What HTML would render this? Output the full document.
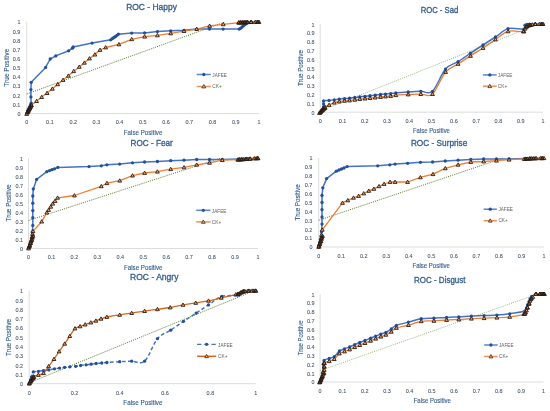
<!DOCTYPE html>
<html><head><meta charset="utf-8"><style>
html,body{margin:0;padding:0;background:#fff;width:550px;height:411px;overflow:hidden}
svg{display:block;filter:blur(0.25px)}
text{font-family:"Liberation Sans",sans-serif}
.t{font-size:6.2px;fill:#44546A;stroke:#44546A;stroke-width:0.08}
.ti{font-size:8.9px;fill:#355D8E;stroke:#355D8E;stroke-width:0.32}
.at{font-size:6.5px;fill:#355D8E;stroke:#355D8E;stroke-width:0.12}
.lg{font-size:6.0px;fill:#606060}
</style></head><body>
<svg width="550" height="411" viewBox="0 0 550 411">
<rect width="550" height="411" fill="#fff"/>
<g><line x1="26.7" y1="22" x2="26.7" y2="113.6" stroke="#D9D9D9" stroke-width="0.9"/><line x1="26.7" y1="113.6" x2="259" y2="113.6" stroke="#D9D9D9" stroke-width="0.9"/><text x="20.4" y="115.9" text-anchor="end" class="t" textLength="3.0" lengthAdjust="spacingAndGlyphs">0</text><text x="20.4" y="106.7" text-anchor="end" class="t" textLength="7.6" lengthAdjust="spacingAndGlyphs">0.1</text><text x="20.4" y="97.6" text-anchor="end" class="t" textLength="7.6" lengthAdjust="spacingAndGlyphs">0.2</text><text x="20.4" y="88.4" text-anchor="end" class="t" textLength="7.6" lengthAdjust="spacingAndGlyphs">0.3</text><text x="20.4" y="79.3" text-anchor="end" class="t" textLength="7.6" lengthAdjust="spacingAndGlyphs">0.4</text><text x="20.4" y="70.1" text-anchor="end" class="t" textLength="7.6" lengthAdjust="spacingAndGlyphs">0.5</text><text x="20.4" y="60.9" text-anchor="end" class="t" textLength="7.6" lengthAdjust="spacingAndGlyphs">0.6</text><text x="20.4" y="51.8" text-anchor="end" class="t" textLength="7.6" lengthAdjust="spacingAndGlyphs">0.7</text><text x="20.4" y="42.6" text-anchor="end" class="t" textLength="7.6" lengthAdjust="spacingAndGlyphs">0.8</text><text x="20.4" y="33.5" text-anchor="end" class="t" textLength="7.6" lengthAdjust="spacingAndGlyphs">0.9</text><text x="20.4" y="24.3" text-anchor="end" class="t" textLength="3.0" lengthAdjust="spacingAndGlyphs">1</text><text x="26.7" y="124" text-anchor="middle" class="t" textLength="3.0" lengthAdjust="spacingAndGlyphs">0</text><text x="49.9" y="124" text-anchor="middle" class="t" textLength="7.6" lengthAdjust="spacingAndGlyphs">0.1</text><text x="73.2" y="124" text-anchor="middle" class="t" textLength="7.6" lengthAdjust="spacingAndGlyphs">0.2</text><text x="96.4" y="124" text-anchor="middle" class="t" textLength="7.6" lengthAdjust="spacingAndGlyphs">0.3</text><text x="119.6" y="124" text-anchor="middle" class="t" textLength="7.6" lengthAdjust="spacingAndGlyphs">0.4</text><text x="142.8" y="124" text-anchor="middle" class="t" textLength="7.6" lengthAdjust="spacingAndGlyphs">0.5</text><text x="166.1" y="124" text-anchor="middle" class="t" textLength="7.6" lengthAdjust="spacingAndGlyphs">0.6</text><text x="189.3" y="124" text-anchor="middle" class="t" textLength="7.6" lengthAdjust="spacingAndGlyphs">0.7</text><text x="212.5" y="124" text-anchor="middle" class="t" textLength="7.6" lengthAdjust="spacingAndGlyphs">0.8</text><text x="235.8" y="124" text-anchor="middle" class="t" textLength="7.6" lengthAdjust="spacingAndGlyphs">0.9</text><text x="259" y="124" text-anchor="middle" class="t" textLength="3.0" lengthAdjust="spacingAndGlyphs">1</text><text x="126.2" y="10.1" class="ti" textLength="50.7" lengthAdjust="spacingAndGlyphs">ROC - Happy</text><text x="123.8" y="134.6" class="at" textLength="38.6" lengthAdjust="spacingAndGlyphs">False Positive</text><text transform="translate(8.7,67.7) rotate(-90)" x="-19" y="0" class="at" textLength="38" lengthAdjust="spacingAndGlyphs">True Positive</text><line x1="26.7" y1="94" x2="224.4" y2="22.2" stroke="#5C8238" stroke-width="1.0" stroke-dasharray="1.1 1.1"/><polyline points="26.7,113.6 27.5,111 28.5,109 29.5,107 30.5,105 31.2,103.2 30.9,96.9 30.9,89.6 31.2,82.3 45.6,67.4 50.2,59 55.8,55.9 68.6,50.8 72.4,48.2 73.2,47 92.1,43.1 110.7,39.8 112.5,38.5 114,37.5 115.5,36.5 117,35.3 118.4,34.2 131.7,33.1 144.6,32.9 157.4,31.6 170.7,30.8 184,30.3 196.7,29.1 209.5,29.1 223.1,29.1 239.2,29.1 240.5,28.3 242,27 243.5,25.8 245,24.6 246.5,23.5 248,22.6 251.2,21.9 258.1,21.9" fill="none" stroke="#4472C4" stroke-width="1.5" stroke-linejoin="round"/><polyline points="26.7,114 27.5,112.5 28.3,111 29,109.7 29.8,108.4 30.6,106.8 31.4,105.3 36.6,101.1 41.7,97.1 47.1,93.1 52.4,88.8 57.7,84.3 63.1,80 68.4,75.8 73.7,71.2 79.3,66.9 84.4,62.8 89.5,58.5 94.9,54.6 100,50 105.6,47.5 118.9,44.4 131.7,39.3 144.6,36.7 157.4,35.4 170.7,33.4 184,31.1 196.7,29.1 209.6,25.9 223.3,24.3 239,22.6 241,22.5 243,22.4 245,22.3 247,22.2 251.2,22 258.1,22" fill="none" stroke="#ED7D31" stroke-width="1.3" stroke-linejoin="round"/><circle cx="26.7" cy="113.6" r="1.65" fill="#24509A"/><circle cx="27.5" cy="111" r="1.65" fill="#24509A"/><circle cx="28.5" cy="109" r="1.65" fill="#24509A"/><circle cx="29.5" cy="107" r="1.65" fill="#24509A"/><circle cx="30.5" cy="105" r="1.65" fill="#24509A"/><circle cx="31.2" cy="103.2" r="1.65" fill="#24509A"/><circle cx="30.9" cy="96.9" r="1.65" fill="#24509A"/><circle cx="30.9" cy="89.6" r="1.65" fill="#24509A"/><circle cx="31.2" cy="82.3" r="1.65" fill="#24509A"/><circle cx="45.6" cy="67.4" r="1.65" fill="#24509A"/><circle cx="50.2" cy="59" r="1.65" fill="#24509A"/><circle cx="55.8" cy="55.9" r="1.65" fill="#24509A"/><circle cx="68.6" cy="50.8" r="1.65" fill="#24509A"/><circle cx="72.4" cy="48.2" r="1.65" fill="#24509A"/><circle cx="73.2" cy="47" r="1.65" fill="#24509A"/><circle cx="92.1" cy="43.1" r="1.65" fill="#24509A"/><circle cx="110.7" cy="39.8" r="1.65" fill="#24509A"/><circle cx="112.5" cy="38.5" r="1.65" fill="#24509A"/><circle cx="114" cy="37.5" r="1.65" fill="#24509A"/><circle cx="115.5" cy="36.5" r="1.65" fill="#24509A"/><circle cx="117" cy="35.3" r="1.65" fill="#24509A"/><circle cx="118.4" cy="34.2" r="1.65" fill="#24509A"/><circle cx="131.7" cy="33.1" r="1.65" fill="#24509A"/><circle cx="144.6" cy="32.9" r="1.65" fill="#24509A"/><circle cx="157.4" cy="31.6" r="1.65" fill="#24509A"/><circle cx="170.7" cy="30.8" r="1.65" fill="#24509A"/><circle cx="184" cy="30.3" r="1.65" fill="#24509A"/><circle cx="196.7" cy="29.1" r="1.65" fill="#24509A"/><circle cx="209.5" cy="29.1" r="1.65" fill="#24509A"/><circle cx="223.1" cy="29.1" r="1.65" fill="#24509A"/><circle cx="239.2" cy="29.1" r="1.65" fill="#24509A"/><circle cx="240.5" cy="28.3" r="1.65" fill="#24509A"/><circle cx="242" cy="27" r="1.65" fill="#24509A"/><circle cx="243.5" cy="25.8" r="1.65" fill="#24509A"/><circle cx="245" cy="24.6" r="1.65" fill="#24509A"/><circle cx="246.5" cy="23.5" r="1.65" fill="#24509A"/><circle cx="248" cy="22.6" r="1.65" fill="#24509A"/><circle cx="251.2" cy="21.9" r="1.65" fill="#24509A"/><circle cx="258.1" cy="21.9" r="1.65" fill="#24509A"/><path d="M24.8 115.4L26.7 112.1L28.6 115.4ZM25.6 113.9L27.5 110.6L29.4 113.9ZM26.4 112.4L28.3 109.1L30.2 112.4ZM27.1 111.1L29 107.8L30.9 111.1ZM27.9 109.8L29.8 106.5L31.7 109.8ZM28.7 108.2L30.6 104.9L32.5 108.2ZM29.5 106.7L31.4 103.4L33.3 106.7ZM34.7 102.5L36.6 99.2L38.5 102.5ZM39.8 98.5L41.7 95.2L43.6 98.5ZM45.2 94.5L47.1 91.2L49 94.5ZM50.5 90.2L52.4 86.9L54.3 90.2ZM55.8 85.7L57.7 82.4L59.6 85.7ZM61.2 81.4L63.1 78.1L65 81.4ZM66.5 77.2L68.4 73.9L70.3 77.2ZM71.8 72.6L73.7 69.3L75.6 72.6ZM77.4 68.3L79.3 65L81.2 68.3ZM82.5 64.2L84.4 60.9L86.3 64.2ZM87.6 59.9L89.5 56.6L91.4 59.9ZM93 56L94.9 52.7L96.8 56ZM98.1 51.4L100 48.1L101.9 51.4ZM103.7 48.9L105.6 45.6L107.5 48.9ZM117 45.8L118.9 42.5L120.8 45.8ZM129.8 40.7L131.7 37.4L133.6 40.7ZM142.7 38.1L144.6 34.8L146.5 38.1ZM155.5 36.8L157.4 33.5L159.3 36.8ZM168.8 34.8L170.7 31.5L172.6 34.8ZM182.1 32.5L184 29.2L185.9 32.5ZM194.8 30.5L196.7 27.2L198.6 30.5ZM207.7 27.3L209.6 24L211.5 27.3ZM221.4 25.7L223.3 22.4L225.2 25.7ZM237.1 24L239 20.7L240.9 24ZM239.1 23.9L241 20.6L242.9 23.9ZM241.1 23.8L243 20.5L244.9 23.8ZM243.1 23.7L245 20.4L246.9 23.7ZM245.1 23.6L247 20.3L248.9 23.6ZM249.3 23.4L251.2 20.1L253.1 23.4ZM256.2 23.4L258.1 20.1L260 23.4ZM25.6 113.4L27.5 110.1L29.4 113.4ZM26.3 112L28.2 108.7L30.1 112ZM27.1 110.6L29 107.3L30.9 110.6ZM27.8 109.2L29.7 105.9L31.6 109.2ZM28.6 107.8L30.5 104.5L32.4 107.8ZM29.3 106.4L31.2 103.1L33.1 106.4ZM236.7 24.1L238.6 20.7L240.5 24.1ZM238.5 24L240.4 20.6L242.3 24ZM240.4 23.9L242.3 20.5L244.2 23.9ZM242.2 23.8L244.1 20.4L246 23.8ZM244.1 23.7L246 20.4L247.9 23.7ZM245.9 23.6L247.8 20.3L249.7 23.6ZM249.2 23.4L251.1 20.1L253 23.4ZM253.4 23.4L255.3 20.1L257.2 23.4ZM255.2 23.4L257.1 20.1L259 23.4ZM257.1 23.4L259 20.1L260.9 23.4Z" fill="#F4A46E" stroke="#2A1C12" stroke-width="0.9" stroke-linejoin="round"/><line x1="196.7" y1="74.5" x2="210.8" y2="74.5" stroke="#5A86D0" stroke-width="1.5"/><circle cx="203.8" cy="74.5" r="1.65" fill="#24509A"/><line x1="196.7" y1="86.5" x2="210.8" y2="86.5" stroke="#F09050" stroke-width="1.5"/><path d="M201.8 87.9L203.8 84.6L205.7 87.9Z" fill="#F4B183" stroke="#3B2A1E" stroke-width="0.8"/><text x="212.3" y="76.7" class="lg" textLength="14.6" lengthAdjust="spacingAndGlyphs">JAFEE</text><text x="212.3" y="88.1" class="lg" textLength="9.4" lengthAdjust="spacingAndGlyphs">CK+</text></g>
<g><line x1="320.2" y1="24.2" x2="320.2" y2="112.2" stroke="#D9D9D9" stroke-width="0.9"/><line x1="320.2" y1="112.2" x2="543" y2="112.2" stroke="#D9D9D9" stroke-width="0.9"/><text x="314.6" y="114.5" text-anchor="end" class="t" textLength="3.0" lengthAdjust="spacingAndGlyphs">0</text><text x="314.6" y="105.7" text-anchor="end" class="t" textLength="7.6" lengthAdjust="spacingAndGlyphs">0.1</text><text x="314.6" y="96.9" text-anchor="end" class="t" textLength="7.6" lengthAdjust="spacingAndGlyphs">0.2</text><text x="314.6" y="88.1" text-anchor="end" class="t" textLength="7.6" lengthAdjust="spacingAndGlyphs">0.3</text><text x="314.6" y="79.3" text-anchor="end" class="t" textLength="7.6" lengthAdjust="spacingAndGlyphs">0.4</text><text x="314.6" y="70.5" text-anchor="end" class="t" textLength="7.6" lengthAdjust="spacingAndGlyphs">0.5</text><text x="314.6" y="61.7" text-anchor="end" class="t" textLength="7.6" lengthAdjust="spacingAndGlyphs">0.6</text><text x="314.6" y="52.9" text-anchor="end" class="t" textLength="7.6" lengthAdjust="spacingAndGlyphs">0.7</text><text x="314.6" y="44.1" text-anchor="end" class="t" textLength="7.6" lengthAdjust="spacingAndGlyphs">0.8</text><text x="314.6" y="35.3" text-anchor="end" class="t" textLength="7.6" lengthAdjust="spacingAndGlyphs">0.9</text><text x="314.6" y="26.5" text-anchor="end" class="t" textLength="3.0" lengthAdjust="spacingAndGlyphs">1</text><text x="320.2" y="123" text-anchor="middle" class="t" textLength="3.0" lengthAdjust="spacingAndGlyphs">0</text><text x="342.5" y="123" text-anchor="middle" class="t" textLength="7.6" lengthAdjust="spacingAndGlyphs">0.1</text><text x="364.8" y="123" text-anchor="middle" class="t" textLength="7.6" lengthAdjust="spacingAndGlyphs">0.2</text><text x="387" y="123" text-anchor="middle" class="t" textLength="7.6" lengthAdjust="spacingAndGlyphs">0.3</text><text x="409.3" y="123" text-anchor="middle" class="t" textLength="7.6" lengthAdjust="spacingAndGlyphs">0.4</text><text x="431.6" y="123" text-anchor="middle" class="t" textLength="7.6" lengthAdjust="spacingAndGlyphs">0.5</text><text x="453.9" y="123" text-anchor="middle" class="t" textLength="7.6" lengthAdjust="spacingAndGlyphs">0.6</text><text x="476.2" y="123" text-anchor="middle" class="t" textLength="7.6" lengthAdjust="spacingAndGlyphs">0.7</text><text x="498.4" y="123" text-anchor="middle" class="t" textLength="7.6" lengthAdjust="spacingAndGlyphs">0.8</text><text x="520.7" y="123" text-anchor="middle" class="t" textLength="7.6" lengthAdjust="spacingAndGlyphs">0.9</text><text x="543" y="123" text-anchor="middle" class="t" textLength="3.0" lengthAdjust="spacingAndGlyphs">1</text><text x="420.7" y="12.8" class="ti" textLength="37.5" lengthAdjust="spacingAndGlyphs">ROC - Sad</text><text x="413" y="132.8" class="at" textLength="36.9" lengthAdjust="spacingAndGlyphs">False Positive</text><text transform="translate(302.9,68.1) rotate(-90)" x="-18" y="0" class="at" textLength="36" lengthAdjust="spacingAndGlyphs">True Positive</text><line x1="320.2" y1="111" x2="538" y2="24.2" stroke="#8DB36E" stroke-width="0.85" stroke-dasharray="1.1 1.1"/><path d="M320.2 112.2C320.5 111.8 321.4 110.9 322 110C322.6 109.1 323.3 108 323.6 107C323.9 106 323.6 105 323.6 104C323.6 103 322.7 101.5 323.6 100.9C324.5 100.3 327.3 100.7 329.1 100.5C330.9 100.3 332.6 100 334.3 99.8C336 99.6 337.6 99.3 339.3 99.1C341 98.9 342.8 98.8 344.5 98.6C346.2 98.4 347.8 98.4 349.5 98.2C351.2 98 353.1 97.7 354.8 97.5C356.5 97.3 358.1 97 359.8 96.8C361.5 96.6 363.3 96.6 365 96.4C366.7 96.2 368.3 95.9 370 95.7C371.7 95.5 373.4 95.4 375.2 95.2C376.9 95 378.8 94.7 380.5 94.5C382.2 94.3 383.8 94.2 385.5 94.1C387.2 93.9 389 93.8 390.7 93.6C392.4 93.4 392.9 93.2 395.8 92.9C398.7 92.6 404 92.3 408.2 92C412.4 91.7 416.8 91.4 420.8 91.3C424.9 91.2 428.4 95 432.5 91.3C436.6 87.6 441.2 74 445.5 69.1C449.8 64.1 453.9 64.2 458.1 61.6C462.3 59 466.4 56 470.5 53.2C474.6 50.4 478.8 47.7 483 45C487.2 42.3 491.3 39.7 495.5 37C499.7 34.3 503.3 29.9 508 28.6C512.7 27.3 521.1 29.7 523.9 29.1C526.7 28.5 524.5 26 525 25.2C525.5 24.4 526.2 24.7 527 24.5C527.8 24.3 528.1 24.2 529.5 24.1C530.9 24 533.3 24.1 535.2 24.1C537.1 24.1 539.6 24.1 540.9 24.1C542.2 24.1 542.6 24.1 543 24.1" fill="none" stroke="#4472C4" stroke-width="1.5" stroke-linejoin="round"/><path d="M320.2 112.5C320.4 112.2 321 111.2 321.5 110.5C322 109.8 322.4 109.1 323 108.5C323.6 107.9 324 107.6 325 107C326 106.4 327.6 105.7 329.1 105C330.7 104.3 332.6 103.3 334.3 102.7C336 102.1 337.6 101.9 339.3 101.6C341 101.3 342.8 101.1 344.5 100.9C346.2 100.7 347.8 100.7 349.5 100.5C351.2 100.3 353.1 100 354.8 99.8C356.5 99.6 358.1 99.3 359.8 99.1C361.5 98.9 363.3 98.8 365 98.6C366.7 98.4 368.3 98.3 370 98.1C371.7 97.9 373.4 97.8 375.2 97.6C376.9 97.4 378.8 97.2 380.5 97C382.2 96.8 383.8 96.7 385.5 96.5C387.2 96.3 389 96.2 390.7 96C392.4 95.8 392.9 95.5 395.8 95.2C398.7 95 404 94.7 408.2 94.5C412.4 94.3 416.8 94.2 420.8 94.1C424.9 94 428.4 97.8 432.5 94.1C436.6 90.4 441.3 77 445.6 72C449.9 67 454 66.6 458.1 63.9C462.2 61.2 466.4 58.5 470.5 55.9C474.6 53.2 478.8 50.7 483 48C487.2 45.3 491.3 42.3 495.5 39.5C499.7 36.7 503.3 32.8 508 31.4C512.7 30 520.9 32.2 523.9 31.4C526.9 30.6 525 27.9 526 26.8C527 25.7 528.5 25.4 530 25C531.5 24.6 533.2 24.2 535.2 24.1C537.2 24 540.9 24.1 542 24.1" fill="none" stroke="#ED7D31" stroke-width="1.3" stroke-linejoin="round"/><circle cx="320.2" cy="112.2" r="1.65" fill="#24509A"/><circle cx="322" cy="110" r="1.65" fill="#24509A"/><circle cx="323.6" cy="107" r="1.65" fill="#24509A"/><circle cx="323.6" cy="104" r="1.65" fill="#24509A"/><circle cx="323.6" cy="100.9" r="1.65" fill="#24509A"/><circle cx="329.1" cy="100.5" r="1.65" fill="#24509A"/><circle cx="334.3" cy="99.8" r="1.65" fill="#24509A"/><circle cx="339.3" cy="99.1" r="1.65" fill="#24509A"/><circle cx="344.5" cy="98.6" r="1.65" fill="#24509A"/><circle cx="349.5" cy="98.2" r="1.65" fill="#24509A"/><circle cx="354.8" cy="97.5" r="1.65" fill="#24509A"/><circle cx="359.8" cy="96.8" r="1.65" fill="#24509A"/><circle cx="365" cy="96.4" r="1.65" fill="#24509A"/><circle cx="370" cy="95.7" r="1.65" fill="#24509A"/><circle cx="375.2" cy="95.2" r="1.65" fill="#24509A"/><circle cx="380.5" cy="94.5" r="1.65" fill="#24509A"/><circle cx="385.5" cy="94.1" r="1.65" fill="#24509A"/><circle cx="390.7" cy="93.6" r="1.65" fill="#24509A"/><circle cx="395.8" cy="92.9" r="1.65" fill="#24509A"/><circle cx="408.2" cy="92" r="1.65" fill="#24509A"/><circle cx="420.8" cy="91.3" r="1.65" fill="#24509A"/><circle cx="432.5" cy="91.3" r="1.65" fill="#24509A"/><circle cx="445.5" cy="69.1" r="1.65" fill="#24509A"/><circle cx="458.1" cy="61.6" r="1.65" fill="#24509A"/><circle cx="470.5" cy="53.2" r="1.65" fill="#24509A"/><circle cx="483" cy="45" r="1.65" fill="#24509A"/><circle cx="495.5" cy="37" r="1.65" fill="#24509A"/><circle cx="508" cy="28.6" r="1.65" fill="#24509A"/><circle cx="523.9" cy="29.1" r="1.65" fill="#24509A"/><circle cx="525" cy="25.2" r="1.65" fill="#24509A"/><circle cx="527" cy="24.5" r="1.65" fill="#24509A"/><circle cx="529.5" cy="24.1" r="1.65" fill="#24509A"/><circle cx="535.2" cy="24.1" r="1.65" fill="#24509A"/><circle cx="540.9" cy="24.1" r="1.65" fill="#24509A"/><circle cx="543" cy="24.1" r="1.65" fill="#24509A"/><path d="M318.3 113.9L320.2 110.6L322.1 113.9ZM319.6 111.9L321.5 108.6L323.4 111.9ZM321.1 109.9L323 106.6L324.9 109.9ZM323.1 108.4L325 105.1L326.9 108.4ZM327.2 106.4L329.1 103.1L331 106.4ZM332.4 104.1L334.3 100.8L336.2 104.1ZM337.4 103L339.3 99.7L341.2 103ZM342.6 102.3L344.5 99L346.4 102.3ZM347.6 101.9L349.5 98.6L351.4 101.9ZM352.9 101.2L354.8 97.9L356.7 101.2ZM357.9 100.5L359.8 97.2L361.7 100.5ZM363.1 100L365 96.7L366.9 100ZM368.1 99.5L370 96.2L371.9 99.5ZM373.3 99L375.2 95.7L377.1 99ZM378.6 98.4L380.5 95.1L382.4 98.4ZM383.6 97.9L385.5 94.6L387.4 97.9ZM388.8 97.4L390.7 94.1L392.6 97.4ZM393.9 96.6L395.8 93.3L397.7 96.6ZM406.3 95.9L408.2 92.6L410.1 95.9ZM418.9 95.5L420.8 92.2L422.7 95.5ZM430.6 95.5L432.5 92.2L434.4 95.5ZM443.7 73.4L445.6 70.1L447.5 73.4ZM456.2 65.3L458.1 62L460 65.3ZM468.6 57.3L470.5 54L472.4 57.3ZM481.1 49.4L483 46.1L484.9 49.4ZM493.6 40.9L495.5 37.6L497.4 40.9ZM506.1 32.8L508 29.5L509.9 32.8ZM522 32.8L523.9 29.5L525.8 32.8ZM524.1 28.2L526 24.9L527.9 28.2ZM528.1 26.4L530 23.1L531.9 26.4ZM533.3 25.5L535.2 22.2L537.1 25.5ZM540.1 25.5L542 22.2L543.9 25.5ZM317.6 114.4L319.5 111.1L321.4 114.4ZM318.7 113.4L320.6 110.1L322.5 113.4ZM319.8 112.4L321.7 109.1L323.6 112.4ZM320.9 111.4L322.8 108.1L324.7 111.4ZM322 110.4L323.9 107.1L325.8 110.4ZM323.1 109.4L325 106.1L326.9 109.4ZM521.5 32.8L523.4 29.5L525.3 32.8ZM523.3 30L525.2 26.7L527.1 30ZM525.1 27.8L527 24.5L528.9 27.8ZM526.8 27L528.7 23.7L530.6 27ZM528.6 26.3L530.5 23L532.4 26.3ZM530.4 26L532.3 22.7L534.2 26ZM533.5 25.5L535.4 22.2L537.3 25.5ZM537.5 25.5L539.4 22.2L541.3 25.5ZM539.3 25.5L541.2 22.2L543.1 25.5ZM541.1 25.5L543 22.2L544.9 25.5Z" fill="#F4A46E" stroke="#2A1C12" stroke-width="0.9" stroke-linejoin="round"/><line x1="482.9" y1="74.9" x2="496.7" y2="74.9" stroke="#5A86D0" stroke-width="1.5"/><circle cx="489.8" cy="74.9" r="1.65" fill="#24509A"/><line x1="482.9" y1="86.2" x2="496.7" y2="86.2" stroke="#F09050" stroke-width="1.5"/><path d="M487.9 87.6L489.8 84.3L491.7 87.6Z" fill="#F4B183" stroke="#3B2A1E" stroke-width="0.8"/><text x="497.8" y="77.1" class="lg" textLength="14.6" lengthAdjust="spacingAndGlyphs">JAFEE</text><text x="497.8" y="87.8" class="lg" textLength="9.4" lengthAdjust="spacingAndGlyphs">CK+</text></g>
<g><line x1="28.5" y1="158.3" x2="28.5" y2="248.5" stroke="#D9D9D9" stroke-width="0.9"/><line x1="28.5" y1="248.5" x2="258" y2="248.5" stroke="#D9D9D9" stroke-width="0.9"/><text x="23.1" y="250.8" text-anchor="end" class="t" textLength="3.0" lengthAdjust="spacingAndGlyphs">0</text><text x="23.1" y="241.8" text-anchor="end" class="t" textLength="7.6" lengthAdjust="spacingAndGlyphs">0.1</text><text x="23.1" y="232.8" text-anchor="end" class="t" textLength="7.6" lengthAdjust="spacingAndGlyphs">0.2</text><text x="23.1" y="223.7" text-anchor="end" class="t" textLength="7.6" lengthAdjust="spacingAndGlyphs">0.3</text><text x="23.1" y="214.7" text-anchor="end" class="t" textLength="7.6" lengthAdjust="spacingAndGlyphs">0.4</text><text x="23.1" y="205.7" text-anchor="end" class="t" textLength="7.6" lengthAdjust="spacingAndGlyphs">0.5</text><text x="23.1" y="196.7" text-anchor="end" class="t" textLength="7.6" lengthAdjust="spacingAndGlyphs">0.6</text><text x="23.1" y="187.7" text-anchor="end" class="t" textLength="7.6" lengthAdjust="spacingAndGlyphs">0.7</text><text x="23.1" y="178.6" text-anchor="end" class="t" textLength="7.6" lengthAdjust="spacingAndGlyphs">0.8</text><text x="23.1" y="169.6" text-anchor="end" class="t" textLength="7.6" lengthAdjust="spacingAndGlyphs">0.9</text><text x="23.1" y="160.6" text-anchor="end" class="t" textLength="3.0" lengthAdjust="spacingAndGlyphs">1</text><text x="28.5" y="258.9" text-anchor="middle" class="t" textLength="3.0" lengthAdjust="spacingAndGlyphs">0</text><text x="51.5" y="258.9" text-anchor="middle" class="t" textLength="7.6" lengthAdjust="spacingAndGlyphs">0.1</text><text x="74.4" y="258.9" text-anchor="middle" class="t" textLength="7.6" lengthAdjust="spacingAndGlyphs">0.2</text><text x="97.3" y="258.9" text-anchor="middle" class="t" textLength="7.6" lengthAdjust="spacingAndGlyphs">0.3</text><text x="120.3" y="258.9" text-anchor="middle" class="t" textLength="7.6" lengthAdjust="spacingAndGlyphs">0.4</text><text x="143.2" y="258.9" text-anchor="middle" class="t" textLength="7.6" lengthAdjust="spacingAndGlyphs">0.5</text><text x="166.2" y="258.9" text-anchor="middle" class="t" textLength="7.6" lengthAdjust="spacingAndGlyphs">0.6</text><text x="189.1" y="258.9" text-anchor="middle" class="t" textLength="7.6" lengthAdjust="spacingAndGlyphs">0.7</text><text x="212.1" y="258.9" text-anchor="middle" class="t" textLength="7.6" lengthAdjust="spacingAndGlyphs">0.8</text><text x="235.1" y="258.9" text-anchor="middle" class="t" textLength="7.6" lengthAdjust="spacingAndGlyphs">0.9</text><text x="258" y="258.9" text-anchor="middle" class="t" textLength="3.0" lengthAdjust="spacingAndGlyphs">1</text><text x="130.5" y="146.3" class="ti" textLength="42.2" lengthAdjust="spacingAndGlyphs">ROC - Fear</text><text x="124" y="269.5" class="at" textLength="38.5" lengthAdjust="spacingAndGlyphs">False Positive</text><text transform="translate(11.2,203) rotate(-90)" x="-18.5" y="0" class="at" textLength="37" lengthAdjust="spacingAndGlyphs">True Positive</text><line x1="28.5" y1="220.5" x2="220" y2="158.3" stroke="#5C8238" stroke-width="1.0" stroke-dasharray="1.1 1.1"/><polyline points="28.5,248.5 30,245 31.5,242 32.3,231.8 32.8,225.4 32.8,217.7 32.8,210.6 32.8,203.2 32.8,196 33.3,188.9 36.6,179.4 46.8,171.7 49.5,170.6 52,169.7 54.5,168.8 57.8,167.4 89,166.6 101.3,165.8 106.9,164.8 119.7,164.1 132.5,162.8 144.6,162 157.4,161.5 170.7,160.7 184,160.2 196.7,159.5 209.5,159.5 222.3,159.5 239.7,159 248,158.6 257.6,158.3" fill="none" stroke="#4472C4" stroke-width="1.5" stroke-linejoin="round"/><polyline points="28.5,248.5 29.5,246 30.5,243 31.5,240 32,237 32.5,234 33,231.3 41.7,221.6 46.8,212.6 48.6,210 50.7,206.8 52.7,203.7 55,201 57.6,197.8 74.4,195.5 101.3,186.3 106.9,183.2 119.7,180.7 132.5,175.6 144.6,173 157.4,171.7 170.7,169.2 184,167.4 196.7,164.8 209.5,162.8 222.3,160.2 238.4,159.7 242,159.4 246,159.1 250,158.8 257.6,158.3" fill="none" stroke="#ED7D31" stroke-width="1.3" stroke-linejoin="round"/><circle cx="28.5" cy="248.5" r="1.65" fill="#24509A"/><circle cx="30" cy="245" r="1.65" fill="#24509A"/><circle cx="31.5" cy="242" r="1.65" fill="#24509A"/><circle cx="32.3" cy="231.8" r="1.65" fill="#24509A"/><circle cx="32.8" cy="225.4" r="1.65" fill="#24509A"/><circle cx="32.8" cy="217.7" r="1.65" fill="#24509A"/><circle cx="32.8" cy="210.6" r="1.65" fill="#24509A"/><circle cx="32.8" cy="203.2" r="1.65" fill="#24509A"/><circle cx="32.8" cy="196" r="1.65" fill="#24509A"/><circle cx="33.3" cy="188.9" r="1.65" fill="#24509A"/><circle cx="36.6" cy="179.4" r="1.65" fill="#24509A"/><circle cx="46.8" cy="171.7" r="1.65" fill="#24509A"/><circle cx="49.5" cy="170.6" r="1.65" fill="#24509A"/><circle cx="52" cy="169.7" r="1.65" fill="#24509A"/><circle cx="54.5" cy="168.8" r="1.65" fill="#24509A"/><circle cx="57.8" cy="167.4" r="1.65" fill="#24509A"/><circle cx="89" cy="166.6" r="1.65" fill="#24509A"/><circle cx="101.3" cy="165.8" r="1.65" fill="#24509A"/><circle cx="106.9" cy="164.8" r="1.65" fill="#24509A"/><circle cx="119.7" cy="164.1" r="1.65" fill="#24509A"/><circle cx="132.5" cy="162.8" r="1.65" fill="#24509A"/><circle cx="144.6" cy="162" r="1.65" fill="#24509A"/><circle cx="157.4" cy="161.5" r="1.65" fill="#24509A"/><circle cx="170.7" cy="160.7" r="1.65" fill="#24509A"/><circle cx="184" cy="160.2" r="1.65" fill="#24509A"/><circle cx="196.7" cy="159.5" r="1.65" fill="#24509A"/><circle cx="209.5" cy="159.5" r="1.65" fill="#24509A"/><circle cx="222.3" cy="159.5" r="1.65" fill="#24509A"/><circle cx="239.7" cy="159" r="1.65" fill="#24509A"/><circle cx="248" cy="158.6" r="1.65" fill="#24509A"/><circle cx="257.6" cy="158.3" r="1.65" fill="#24509A"/><path d="M26.6 249.9L28.5 246.6L30.4 249.9ZM27.6 247.4L29.5 244.1L31.4 247.4ZM28.6 244.4L30.5 241.1L32.4 244.4ZM29.6 241.4L31.5 238.1L33.4 241.4ZM30.1 238.4L32 235.1L33.9 238.4ZM30.6 235.4L32.5 232.1L34.4 235.4ZM31.1 232.7L33 229.4L34.9 232.7ZM39.8 223L41.7 219.7L43.6 223ZM44.9 214L46.8 210.7L48.7 214ZM46.7 211.4L48.6 208.1L50.5 211.4ZM48.8 208.2L50.7 204.9L52.6 208.2ZM50.8 205.1L52.7 201.8L54.6 205.1ZM53.1 202.4L55 199.1L56.9 202.4ZM55.7 199.2L57.6 195.9L59.5 199.2ZM72.5 196.9L74.4 193.6L76.3 196.9ZM99.4 187.7L101.3 184.4L103.2 187.7ZM105 184.6L106.9 181.3L108.8 184.6ZM117.8 182.1L119.7 178.8L121.6 182.1ZM130.6 177L132.5 173.7L134.4 177ZM142.7 174.4L144.6 171.1L146.5 174.4ZM155.5 173.1L157.4 169.8L159.3 173.1ZM168.8 170.6L170.7 167.3L172.6 170.6ZM182.1 168.8L184 165.5L185.9 168.8ZM194.8 166.2L196.7 162.9L198.6 166.2ZM207.6 164.2L209.5 160.9L211.4 164.2ZM220.4 161.6L222.3 158.3L224.2 161.6ZM236.5 161.1L238.4 157.8L240.3 161.1ZM240.1 160.8L242 157.5L243.9 160.8ZM244.1 160.5L246 157.2L247.9 160.5ZM248.1 160.2L250 156.9L251.9 160.2ZM255.7 159.7L257.6 156.4L259.5 159.7ZM27.1 248.4L29 245.1L30.9 248.4ZM27.8 246.6L29.7 243.3L31.6 246.6ZM28.4 244.7L30.3 241.4L32.2 244.7ZM29.1 242.9L31 239.6L32.9 242.9ZM29.8 241.1L31.7 237.8L33.6 241.1ZM30.4 239.2L32.3 235.9L34.2 239.2ZM31.1 237.4L33 234.1L34.9 237.4ZM235.9 161.1L237.8 157.8L239.7 161.1ZM237.7 161L239.6 157.7L241.5 161ZM239.6 160.9L241.5 157.5L243.4 160.9ZM241.4 160.7L243.3 157.4L245.2 160.7ZM243.2 160.6L245.1 157.3L247 160.6ZM245.1 160.5L247 157.1L248.9 160.5ZM248.3 160.2L250.2 156.9L252.1 160.2ZM252.4 159.9L254.3 156.6L256.2 159.9ZM254.3 159.8L256.2 156.5L258.1 159.8ZM256.1 159.7L258 156.4L259.9 159.7Z" fill="#F4A46E" stroke="#2A1C12" stroke-width="0.9" stroke-linejoin="round"/><line x1="196.2" y1="210.3" x2="210.5" y2="210.3" stroke="#5A86D0" stroke-width="1.5"/><circle cx="203.3" cy="210.3" r="1.65" fill="#24509A"/><line x1="196.2" y1="221.9" x2="210.5" y2="221.9" stroke="#F09050" stroke-width="1.5"/><path d="M201.4 223.3L203.3 220L205.2 223.3Z" fill="#F4B183" stroke="#3B2A1E" stroke-width="0.8"/><text x="211.8" y="212.5" class="lg" textLength="14.6" lengthAdjust="spacingAndGlyphs">JAFEE</text><text x="211.8" y="223.5" class="lg" textLength="9.4" lengthAdjust="spacingAndGlyphs">CK+</text></g>
<g><line x1="318.7" y1="158" x2="318.7" y2="247" stroke="#D9D9D9" stroke-width="0.9"/><line x1="318.7" y1="247" x2="544" y2="247" stroke="#D9D9D9" stroke-width="0.9"/><text x="312.4" y="249.3" text-anchor="end" class="t" textLength="3.0" lengthAdjust="spacingAndGlyphs">0</text><text x="312.4" y="240.4" text-anchor="end" class="t" textLength="7.6" lengthAdjust="spacingAndGlyphs">0.1</text><text x="312.4" y="231.5" text-anchor="end" class="t" textLength="7.6" lengthAdjust="spacingAndGlyphs">0.2</text><text x="312.4" y="222.6" text-anchor="end" class="t" textLength="7.6" lengthAdjust="spacingAndGlyphs">0.3</text><text x="312.4" y="213.7" text-anchor="end" class="t" textLength="7.6" lengthAdjust="spacingAndGlyphs">0.4</text><text x="312.4" y="204.8" text-anchor="end" class="t" textLength="7.6" lengthAdjust="spacingAndGlyphs">0.5</text><text x="312.4" y="195.9" text-anchor="end" class="t" textLength="7.6" lengthAdjust="spacingAndGlyphs">0.6</text><text x="312.4" y="187" text-anchor="end" class="t" textLength="7.6" lengthAdjust="spacingAndGlyphs">0.7</text><text x="312.4" y="178.1" text-anchor="end" class="t" textLength="7.6" lengthAdjust="spacingAndGlyphs">0.8</text><text x="312.4" y="169.2" text-anchor="end" class="t" textLength="7.6" lengthAdjust="spacingAndGlyphs">0.9</text><text x="312.4" y="160.3" text-anchor="end" class="t" textLength="3.0" lengthAdjust="spacingAndGlyphs">1</text><text x="318.7" y="258.2" text-anchor="middle" class="t" textLength="3.0" lengthAdjust="spacingAndGlyphs">0</text><text x="341.2" y="258.2" text-anchor="middle" class="t" textLength="7.6" lengthAdjust="spacingAndGlyphs">0.1</text><text x="363.8" y="258.2" text-anchor="middle" class="t" textLength="7.6" lengthAdjust="spacingAndGlyphs">0.2</text><text x="386.3" y="258.2" text-anchor="middle" class="t" textLength="7.6" lengthAdjust="spacingAndGlyphs">0.3</text><text x="408.8" y="258.2" text-anchor="middle" class="t" textLength="7.6" lengthAdjust="spacingAndGlyphs">0.4</text><text x="431.4" y="258.2" text-anchor="middle" class="t" textLength="7.6" lengthAdjust="spacingAndGlyphs">0.5</text><text x="453.9" y="258.2" text-anchor="middle" class="t" textLength="7.6" lengthAdjust="spacingAndGlyphs">0.6</text><text x="476.4" y="258.2" text-anchor="middle" class="t" textLength="7.6" lengthAdjust="spacingAndGlyphs">0.7</text><text x="498.9" y="258.2" text-anchor="middle" class="t" textLength="7.6" lengthAdjust="spacingAndGlyphs">0.8</text><text x="521.5" y="258.2" text-anchor="middle" class="t" textLength="7.6" lengthAdjust="spacingAndGlyphs">0.9</text><text x="544" y="258.2" text-anchor="middle" class="t" textLength="3.0" lengthAdjust="spacingAndGlyphs">1</text><text x="410.9" y="146.3" class="ti" textLength="56.4" lengthAdjust="spacingAndGlyphs">ROC - Surprise</text><text x="412.5" y="268.1" class="at" textLength="37.4" lengthAdjust="spacingAndGlyphs">False Positive</text><text transform="translate(300.4,202.4) rotate(-90)" x="-18" y="0" class="at" textLength="36" lengthAdjust="spacingAndGlyphs">True Positive</text><line x1="318.7" y1="220.3" x2="503" y2="158.2" stroke="#5C8238" stroke-width="1.0" stroke-dasharray="1.1 1.1"/><polyline points="318.7,247 320.2,242 321.5,231.8 322,224.1 322,217 322,209.6 322,202.4 322,195.5 322.8,187.8 326.6,178.6 336.3,171.2 339,170 341.5,169 344,168 347.1,166.6 377.7,165.8 389.8,164.8 395.1,164.1 407.6,163.3 420.4,162.3 432.6,162 445.3,161 458.1,160.2 470.8,159.4 483.6,158.9 496.4,158.9 509.1,158.9 525.7,158.4 533,158.3 542.3,158.2" fill="none" stroke="#4472C4" stroke-width="1.5" stroke-linejoin="round"/><polyline points="318.7,247 319.5,244 320.5,241 321,238 321.5,235 322.3,229.8 342.5,202.9 347.8,200.4 353.5,197.8 358.6,196 363.7,193.5 368.8,190.9 373.9,188.9 379,186.3 384.1,184 390,182 395.1,182 407.6,182 420.4,177.4 433,174.2 445.3,168.4 458.1,164.8 470.8,162 483.6,161.5 496.4,160.7 509.1,159.7 525.7,158.9 530,158.6 535,158.4 542.3,158.2" fill="none" stroke="#ED7D31" stroke-width="1.3" stroke-linejoin="round"/><circle cx="318.7" cy="247" r="1.65" fill="#24509A"/><circle cx="320.2" cy="242" r="1.65" fill="#24509A"/><circle cx="321.5" cy="231.8" r="1.65" fill="#24509A"/><circle cx="322" cy="224.1" r="1.65" fill="#24509A"/><circle cx="322" cy="217" r="1.65" fill="#24509A"/><circle cx="322" cy="209.6" r="1.65" fill="#24509A"/><circle cx="322" cy="202.4" r="1.65" fill="#24509A"/><circle cx="322" cy="195.5" r="1.65" fill="#24509A"/><circle cx="322.8" cy="187.8" r="1.65" fill="#24509A"/><circle cx="326.6" cy="178.6" r="1.65" fill="#24509A"/><circle cx="336.3" cy="171.2" r="1.65" fill="#24509A"/><circle cx="339" cy="170" r="1.65" fill="#24509A"/><circle cx="341.5" cy="169" r="1.65" fill="#24509A"/><circle cx="344" cy="168" r="1.65" fill="#24509A"/><circle cx="347.1" cy="166.6" r="1.65" fill="#24509A"/><circle cx="377.7" cy="165.8" r="1.65" fill="#24509A"/><circle cx="389.8" cy="164.8" r="1.65" fill="#24509A"/><circle cx="395.1" cy="164.1" r="1.65" fill="#24509A"/><circle cx="407.6" cy="163.3" r="1.65" fill="#24509A"/><circle cx="420.4" cy="162.3" r="1.65" fill="#24509A"/><circle cx="432.6" cy="162" r="1.65" fill="#24509A"/><circle cx="445.3" cy="161" r="1.65" fill="#24509A"/><circle cx="458.1" cy="160.2" r="1.65" fill="#24509A"/><circle cx="470.8" cy="159.4" r="1.65" fill="#24509A"/><circle cx="483.6" cy="158.9" r="1.65" fill="#24509A"/><circle cx="496.4" cy="158.9" r="1.65" fill="#24509A"/><circle cx="509.1" cy="158.9" r="1.65" fill="#24509A"/><circle cx="525.7" cy="158.4" r="1.65" fill="#24509A"/><circle cx="533" cy="158.3" r="1.65" fill="#24509A"/><circle cx="542.3" cy="158.2" r="1.65" fill="#24509A"/><path d="M316.8 248.4L318.7 245.1L320.6 248.4ZM317.6 245.4L319.5 242.1L321.4 245.4ZM318.6 242.4L320.5 239.1L322.4 242.4ZM319.1 239.4L321 236.1L322.9 239.4ZM319.6 236.4L321.5 233.1L323.4 236.4ZM320.4 231.2L322.3 227.9L324.2 231.2ZM340.6 204.3L342.5 201L344.4 204.3ZM345.9 201.8L347.8 198.5L349.7 201.8ZM351.6 199.2L353.5 195.9L355.4 199.2ZM356.7 197.4L358.6 194.1L360.5 197.4ZM361.8 194.9L363.7 191.6L365.6 194.9ZM366.9 192.3L368.8 189L370.7 192.3ZM372 190.3L373.9 187L375.8 190.3ZM377.1 187.7L379 184.4L380.9 187.7ZM382.2 185.4L384.1 182.1L386 185.4ZM388.1 183.4L390 180.1L391.9 183.4ZM393.2 183.4L395.1 180.1L397 183.4ZM405.7 183.4L407.6 180.1L409.5 183.4ZM418.5 178.8L420.4 175.5L422.3 178.8ZM431.1 175.6L433 172.3L434.9 175.6ZM443.4 169.8L445.3 166.5L447.2 169.8ZM456.2 166.2L458.1 162.9L460 166.2ZM468.9 163.4L470.8 160.1L472.7 163.4ZM481.7 162.9L483.6 159.6L485.5 162.9ZM494.5 162.1L496.4 158.8L498.3 162.1ZM507.2 161.1L509.1 157.8L511 161.1ZM523.8 160.3L525.7 157L527.6 160.3ZM528.1 160L530 156.7L531.9 160ZM533.1 159.8L535 156.5L536.9 159.8ZM540.4 159.6L542.3 156.3L544.2 159.6ZM317.1 247.4L319 244.1L320.9 247.4ZM317.7 245.7L319.6 242.4L321.5 245.7ZM318.3 244.1L320.2 240.8L322.1 244.1ZM318.9 242.4L320.8 239.1L322.7 242.4ZM319.4 240.7L321.3 237.4L323.2 240.7ZM320 239.1L321.9 235.8L323.8 239.1ZM320.6 237.4L322.5 234.1L324.4 237.4ZM522.3 160.4L524.2 157.1L526.1 160.4ZM524.1 160.3L526 157L527.9 160.3ZM525.9 160.2L527.8 156.9L529.7 160.2ZM527.7 160.1L529.6 156.7L531.5 160.1ZM529.5 160L531.4 156.6L533.3 160ZM531.3 159.9L533.2 156.6L535.1 159.9ZM534.4 159.8L536.3 156.5L538.2 159.8ZM538.5 159.7L540.4 156.4L542.3 159.7ZM540.3 159.6L542.2 156.3L544.1 159.6ZM542.1 159.6L544 156.3L545.9 159.6Z" fill="#F4A46E" stroke="#2A1C12" stroke-width="0.9" stroke-linejoin="round"/><line x1="483.6" y1="209.2" x2="496.9" y2="209.2" stroke="#5A86D0" stroke-width="1.5"/><circle cx="490.2" cy="209.2" r="1.65" fill="#24509A"/><line x1="483.6" y1="220.7" x2="496.9" y2="220.7" stroke="#F09050" stroke-width="1.5"/><path d="M488.4 222.1L490.2 218.8L492.1 222.1Z" fill="#F4B183" stroke="#3B2A1E" stroke-width="0.8"/><text x="498.4" y="211.4" class="lg" textLength="14.6" lengthAdjust="spacingAndGlyphs">JAFEE</text><text x="498.4" y="222.3" class="lg" textLength="9.4" lengthAdjust="spacingAndGlyphs">CK+</text></g>
<g><line x1="29.2" y1="291" x2="29.2" y2="383.7" stroke="#D9D9D9" stroke-width="0.9"/><line x1="29.2" y1="383.7" x2="255.7" y2="383.7" stroke="#D9D9D9" stroke-width="0.9"/><text x="23.1" y="386" text-anchor="end" class="t" textLength="3.0" lengthAdjust="spacingAndGlyphs">0</text><text x="23.1" y="376.7" text-anchor="end" class="t" textLength="7.6" lengthAdjust="spacingAndGlyphs">0.1</text><text x="23.1" y="367.5" text-anchor="end" class="t" textLength="7.6" lengthAdjust="spacingAndGlyphs">0.2</text><text x="23.1" y="358.2" text-anchor="end" class="t" textLength="7.6" lengthAdjust="spacingAndGlyphs">0.3</text><text x="23.1" y="348.9" text-anchor="end" class="t" textLength="7.6" lengthAdjust="spacingAndGlyphs">0.4</text><text x="23.1" y="339.7" text-anchor="end" class="t" textLength="7.6" lengthAdjust="spacingAndGlyphs">0.5</text><text x="23.1" y="330.4" text-anchor="end" class="t" textLength="7.6" lengthAdjust="spacingAndGlyphs">0.6</text><text x="23.1" y="321.1" text-anchor="end" class="t" textLength="7.6" lengthAdjust="spacingAndGlyphs">0.7</text><text x="23.1" y="311.8" text-anchor="end" class="t" textLength="7.6" lengthAdjust="spacingAndGlyphs">0.8</text><text x="23.1" y="302.6" text-anchor="end" class="t" textLength="7.6" lengthAdjust="spacingAndGlyphs">0.9</text><text x="23.1" y="293.3" text-anchor="end" class="t" textLength="3.0" lengthAdjust="spacingAndGlyphs">1</text><text x="29.2" y="394.9" text-anchor="middle" class="t" textLength="3.0" lengthAdjust="spacingAndGlyphs">0</text><text x="74.5" y="394.9" text-anchor="middle" class="t" textLength="7.6" lengthAdjust="spacingAndGlyphs">0.2</text><text x="119.8" y="394.9" text-anchor="middle" class="t" textLength="7.6" lengthAdjust="spacingAndGlyphs">0.4</text><text x="165.1" y="394.9" text-anchor="middle" class="t" textLength="7.6" lengthAdjust="spacingAndGlyphs">0.6</text><text x="210.4" y="394.9" text-anchor="middle" class="t" textLength="7.6" lengthAdjust="spacingAndGlyphs">0.8</text><text x="255.7" y="394.9" text-anchor="middle" class="t" textLength="3.0" lengthAdjust="spacingAndGlyphs">1</text><text x="130" y="279.8" class="ti" textLength="48.5" lengthAdjust="spacingAndGlyphs">ROC - Angry</text><text x="123.3" y="405" class="at" textLength="39.2" lengthAdjust="spacingAndGlyphs">False Positive</text><text transform="translate(11.2,337.4) rotate(-90)" x="-18.5" y="0" class="at" textLength="37" lengthAdjust="spacingAndGlyphs">True Positive</text><line x1="29.2" y1="382.8" x2="248" y2="293.2" stroke="#5C8238" stroke-width="1.0" stroke-dasharray="1.1 1.1"/><path d="M29.2 383.7C29.4 383.1 30.1 381.1 30.5 380C30.9 378.9 31 378.4 31.5 377C32 375.6 32.1 372.8 33.3 371.9C34.4 371 36.7 371.6 38.4 371.4C40.1 371.2 41.8 370.9 43.5 370.6C45.2 370.4 47.1 370.2 48.9 369.9C50.7 369.6 52.7 369.1 54.5 368.8C56.3 368.5 57.9 368.4 59.6 368.1C61.3 367.9 63 367.5 64.7 367.3C66.4 367.1 68 367 69.8 366.8C71.6 366.6 73.9 366.5 75.7 366.3C77.5 366.1 78.9 365.8 80.6 365.5C82.3 365.2 84.2 365 86 364.8C87.8 364.6 89.4 364.4 91.1 364.2C92.8 364 94.4 363.7 96.2 363.5C98 363.3 100 363.2 101.8 363C103.6 362.8 103.9 362.7 106.9 362.5C109.9 362.3 115.6 361.9 119.7 361.7C123.8 361.5 127.5 361.3 131.7 361.2C135.8 361.1 140.3 364.9 144.6 361.2C148.9 357.4 153.1 343.9 157.4 338.7C161.8 333.5 166.3 333.1 170.7 330.2C175 327.3 179.2 324.1 183.5 321.3C187.8 318.5 192 315.8 196.2 313.1C200.4 310.4 204.2 307.7 208.5 304.9C212.8 302.1 216.8 298.1 221.8 296.5C226.8 294.9 234.8 296.1 238.4 295.2C242 294.2 241.6 291.5 243.5 290.8C245.4 290.1 248 290.8 250 290.8C252 290.8 254.8 290.8 255.7 290.8" fill="none" stroke="#4472C4" stroke-width="1.5" stroke-linejoin="round" stroke-dasharray="3.6 2.4"/><path d="M29.2 383.7C29.4 383.2 30 381.9 30.5 381C31 380.1 31.5 379.2 32 378.5C32.5 377.8 32.2 377.1 33.3 376.5C34.4 375.9 36.7 375.6 38.4 375C40.1 374.4 41.8 374.6 43.5 373.2C45.2 371.8 46.9 368.6 48.6 366.3C50.4 364 52.2 361.6 54 359.1C55.8 356.6 57.3 354.1 59.1 351.5C60.9 348.9 62.9 346.4 64.7 343.8C66.5 341.2 68.1 338.7 69.8 336.1C71.5 333.6 73.3 330.1 75 328.5C76.7 326.9 78.4 327 80.1 326.4C81.8 325.8 83.4 325.2 85.2 324.6C87 324 89 323.2 90.8 322.6C92.6 322 94.2 321.4 95.9 320.8C97.6 320.2 99.2 319.4 101 318.8C102.8 318.2 103.8 317.6 106.9 317C110 316.4 115.6 315.5 119.7 314.9C123.8 314.2 127.5 313.7 131.7 313.1C135.8 312.5 140.3 311.7 144.6 311.1C148.9 310.5 153.1 309.9 157.4 309.3C161.7 308.7 165.9 308.2 170.2 307.5C174.5 306.8 178.8 305.7 183 304.9C187.2 304.1 191.4 303.6 195.7 302.9C199.9 302.2 204.2 301.6 208.5 300.8C212.8 300 216.3 299 221.3 297.8C226.3 296.6 235.1 294.8 238.4 293.9C241.7 293 240.2 292.9 241 292.5C241.8 292.1 242.2 291.8 243.5 291.5C244.8 291.2 247 290.9 249 290.8C251 290.7 254.6 290.8 255.7 290.8" fill="none" stroke="#D9661F" stroke-width="1.3" stroke-linejoin="round"/><circle cx="29.2" cy="383.7" r="1.65" fill="#24509A"/><circle cx="30.5" cy="380" r="1.65" fill="#24509A"/><circle cx="31.5" cy="377" r="1.65" fill="#24509A"/><circle cx="33.3" cy="371.9" r="1.65" fill="#24509A"/><circle cx="38.4" cy="371.4" r="1.65" fill="#24509A"/><circle cx="43.5" cy="370.6" r="1.65" fill="#24509A"/><circle cx="48.9" cy="369.9" r="1.65" fill="#24509A"/><circle cx="54.5" cy="368.8" r="1.65" fill="#24509A"/><circle cx="59.6" cy="368.1" r="1.65" fill="#24509A"/><circle cx="64.7" cy="367.3" r="1.65" fill="#24509A"/><circle cx="69.8" cy="366.8" r="1.65" fill="#24509A"/><circle cx="75.7" cy="366.3" r="1.65" fill="#24509A"/><circle cx="80.6" cy="365.5" r="1.65" fill="#24509A"/><circle cx="86" cy="364.8" r="1.65" fill="#24509A"/><circle cx="91.1" cy="364.2" r="1.65" fill="#24509A"/><circle cx="96.2" cy="363.5" r="1.65" fill="#24509A"/><circle cx="101.8" cy="363" r="1.65" fill="#24509A"/><circle cx="106.9" cy="362.5" r="1.65" fill="#24509A"/><circle cx="119.7" cy="361.7" r="1.65" fill="#24509A"/><circle cx="131.7" cy="361.2" r="1.65" fill="#24509A"/><circle cx="144.6" cy="361.2" r="1.65" fill="#24509A"/><circle cx="157.4" cy="338.7" r="1.65" fill="#24509A"/><circle cx="170.7" cy="330.2" r="1.65" fill="#24509A"/><circle cx="183.5" cy="321.3" r="1.65" fill="#24509A"/><circle cx="196.2" cy="313.1" r="1.65" fill="#24509A"/><circle cx="208.5" cy="304.9" r="1.65" fill="#24509A"/><circle cx="221.8" cy="296.5" r="1.65" fill="#24509A"/><circle cx="238.4" cy="295.2" r="1.65" fill="#24509A"/><circle cx="243.5" cy="290.8" r="1.65" fill="#24509A"/><circle cx="250" cy="290.8" r="1.65" fill="#24509A"/><circle cx="255.7" cy="290.8" r="1.65" fill="#24509A"/><path d="M27.3 385.1L29.2 381.8L31.1 385.1ZM28.6 382.4L30.5 379.1L32.4 382.4ZM30.1 379.9L32 376.6L33.9 379.9ZM31.4 377.9L33.3 374.6L35.2 377.9ZM36.5 376.4L38.4 373.1L40.3 376.4ZM41.6 374.6L43.5 371.3L45.4 374.6ZM46.7 367.7L48.6 364.4L50.5 367.7ZM52.1 360.5L54 357.2L55.9 360.5ZM57.2 352.9L59.1 349.6L61 352.9ZM62.8 345.2L64.7 341.9L66.6 345.2ZM67.9 337.5L69.8 334.2L71.7 337.5ZM73.1 329.9L75 326.6L76.9 329.9ZM78.2 327.8L80.1 324.5L82 327.8ZM83.3 326L85.2 322.7L87.1 326ZM88.9 324L90.8 320.7L92.7 324ZM94 322.2L95.9 318.9L97.8 322.2ZM99.1 320.2L101 316.9L102.9 320.2ZM105 318.4L106.9 315.1L108.8 318.4ZM117.8 316.3L119.7 313L121.6 316.3ZM129.8 314.5L131.7 311.2L133.6 314.5ZM142.7 312.5L144.6 309.2L146.5 312.5ZM155.5 310.7L157.4 307.4L159.3 310.7ZM168.3 308.9L170.2 305.6L172.1 308.9ZM181.1 306.3L183 303L184.9 306.3ZM193.8 304.3L195.7 301L197.6 304.3ZM206.6 302.2L208.5 298.9L210.4 302.2ZM219.4 299.2L221.3 295.9L223.2 299.2ZM236.5 295.3L238.4 292L240.3 295.3ZM239.1 293.9L241 290.6L242.9 293.9ZM241.6 292.9L243.5 289.6L245.4 292.9ZM247.1 292.2L249 288.9L250.9 292.2ZM253.8 292.2L255.7 288.9L257.6 292.2ZM27.6 384.4L29.5 381.1L31.4 384.4ZM28.5 383.2L30.4 379.9L32.3 383.2ZM29.4 382L31.3 378.7L33.2 382ZM30.3 380.8L32.2 377.5L34.1 380.8ZM31.2 379.6L33.1 376.3L35 379.6ZM32.1 378.4L34 375.1L35.9 378.4ZM233.9 295.9L235.8 292.6L237.7 295.9ZM235.7 295.5L237.6 292.2L239.5 295.5ZM237.5 294.8L239.4 291.5L241.3 294.8ZM239.3 293.8L241.2 290.5L243.1 293.8ZM241.1 293.1L243 289.8L244.9 293.1ZM242.9 292.8L244.8 289.4L246.7 292.8ZM246.1 292.4L248 289L249.9 292.4ZM250.2 292.2L252.1 288.9L254 292.2ZM252 292.2L253.9 288.9L255.8 292.2ZM253.8 292.2L255.7 288.9L257.6 292.2Z" fill="#F4A46E" stroke="#2A1C12" stroke-width="0.9" stroke-linejoin="round"/><line x1="197.1" y1="344.3" x2="216.2" y2="344.3" stroke="#4472C4" stroke-width="1.3" stroke-dasharray="4.2 3"/><circle cx="206.6" cy="344.3" r="1.65" fill="#24509A"/><line x1="197.1" y1="356.3" x2="216.2" y2="356.3" stroke="#D9661F" stroke-width="1.5"/><path d="M204.7 357.7L206.6 354.4L208.5 357.7Z" fill="#F4B183" stroke="#3B2A1E" stroke-width="0.8"/><text x="218.1" y="346.5" class="lg" textLength="14.6" lengthAdjust="spacingAndGlyphs">JAFEE</text><text x="218.1" y="357.9" class="lg" textLength="9.4" lengthAdjust="spacingAndGlyphs">CK+</text></g>
<g><line x1="320.1" y1="294.2" x2="320.1" y2="382" stroke="#D9D9D9" stroke-width="0.9"/><line x1="320.1" y1="382" x2="543.5" y2="382" stroke="#D9D9D9" stroke-width="0.9"/><text x="314.6" y="384.3" text-anchor="end" class="t" textLength="3.0" lengthAdjust="spacingAndGlyphs">0</text><text x="314.6" y="375.5" text-anchor="end" class="t" textLength="7.6" lengthAdjust="spacingAndGlyphs">0.1</text><text x="314.6" y="366.7" text-anchor="end" class="t" textLength="7.6" lengthAdjust="spacingAndGlyphs">0.2</text><text x="314.6" y="358" text-anchor="end" class="t" textLength="7.6" lengthAdjust="spacingAndGlyphs">0.3</text><text x="314.6" y="349.2" text-anchor="end" class="t" textLength="7.6" lengthAdjust="spacingAndGlyphs">0.4</text><text x="314.6" y="340.4" text-anchor="end" class="t" textLength="7.6" lengthAdjust="spacingAndGlyphs">0.5</text><text x="314.6" y="331.6" text-anchor="end" class="t" textLength="7.6" lengthAdjust="spacingAndGlyphs">0.6</text><text x="314.6" y="322.8" text-anchor="end" class="t" textLength="7.6" lengthAdjust="spacingAndGlyphs">0.7</text><text x="314.6" y="314.1" text-anchor="end" class="t" textLength="7.6" lengthAdjust="spacingAndGlyphs">0.8</text><text x="314.6" y="305.3" text-anchor="end" class="t" textLength="7.6" lengthAdjust="spacingAndGlyphs">0.9</text><text x="314.6" y="296.5" text-anchor="end" class="t" textLength="3.0" lengthAdjust="spacingAndGlyphs">1</text><text x="320.1" y="393" text-anchor="middle" class="t" textLength="3.0" lengthAdjust="spacingAndGlyphs">0</text><text x="342.4" y="393" text-anchor="middle" class="t" textLength="7.6" lengthAdjust="spacingAndGlyphs">0.1</text><text x="364.8" y="393" text-anchor="middle" class="t" textLength="7.6" lengthAdjust="spacingAndGlyphs">0.2</text><text x="387.1" y="393" text-anchor="middle" class="t" textLength="7.6" lengthAdjust="spacingAndGlyphs">0.3</text><text x="409.5" y="393" text-anchor="middle" class="t" textLength="7.6" lengthAdjust="spacingAndGlyphs">0.4</text><text x="431.8" y="393" text-anchor="middle" class="t" textLength="7.6" lengthAdjust="spacingAndGlyphs">0.5</text><text x="454.1" y="393" text-anchor="middle" class="t" textLength="7.6" lengthAdjust="spacingAndGlyphs">0.6</text><text x="476.5" y="393" text-anchor="middle" class="t" textLength="7.6" lengthAdjust="spacingAndGlyphs">0.7</text><text x="498.8" y="393" text-anchor="middle" class="t" textLength="7.6" lengthAdjust="spacingAndGlyphs">0.8</text><text x="521.2" y="393" text-anchor="middle" class="t" textLength="7.6" lengthAdjust="spacingAndGlyphs">0.9</text><text x="543.5" y="393" text-anchor="middle" class="t" textLength="3.0" lengthAdjust="spacingAndGlyphs">1</text><text x="414" y="282.5" class="ti" textLength="51.5" lengthAdjust="spacingAndGlyphs">ROC - Disgust</text><text x="413.7" y="402.8" class="at" textLength="37.1" lengthAdjust="spacingAndGlyphs">False Positive</text><text transform="translate(302.9,337.8) rotate(-90)" x="-17.5" y="0" class="at" textLength="35" lengthAdjust="spacingAndGlyphs">True Positive</text><line x1="320.1" y1="370.6" x2="532.1" y2="296" stroke="#8DB36E" stroke-width="0.85" stroke-dasharray="1.1 1.1"/><path d="M320.1 382C320.2 381.5 320.7 380 321 379C321.3 378 321.7 377 322 376C322.3 375 322.6 375 322.8 373C323 371 323.1 366.3 323.3 364.2C323.5 362.1 323.1 361.4 324.1 360.4C325.1 359.4 327.5 359 329.2 358.4C330.9 357.8 332.6 357.8 334.3 356.6C336 355.4 337.7 352.3 339.4 351C341.1 349.7 342.8 349.6 344.5 348.9C346.2 348.2 347.9 347.6 349.6 346.9C351.3 346.2 353 345.3 354.7 344.6C356.4 343.9 358.1 343.2 359.8 342.5C361.5 341.8 363.2 341.2 365 340.5C366.8 339.8 368.8 338.9 370.6 338.2C372.4 337.5 374 336.8 375.7 336.1C377.4 335.4 379.1 334.7 380.8 334.1C382.5 333.5 384.1 333.2 385.9 332.3C387.6 331.4 389.6 330.1 391.3 329C393.1 327.9 393.5 326.5 396.4 325.4C399.2 324.2 404.3 323.2 408.4 322.1C412.5 321 416.9 319.4 421.2 318.7C425.4 318 429.7 318.4 433.9 318.2C438.1 318 442.5 317.6 446.6 317.4C450.8 317.2 454.7 317.1 458.8 316.9C462.9 316.7 467.2 316.3 471.4 316.1C475.6 315.9 479.9 315.8 484.1 315.6C488.4 315.4 492.6 315.4 496.9 315.1C501.2 314.8 505 314.5 509.7 313.8C514.4 313.1 522.2 312 525 311C527.8 310 526.1 309 526.5 308C526.9 307 527.1 306.1 527.5 305C527.9 303.9 528.6 302.6 529 301.6C529.4 300.6 529.6 299.9 530 299C530.4 298.1 530.6 297.4 531.6 296.5C532.6 295.6 534 294.3 536 293.9C538 293.5 542.2 293.9 543.5 293.9" fill="none" stroke="#4472C4" stroke-width="1.5" stroke-linejoin="round"/><path d="M320.1 382C320.2 381.7 320.7 380.8 321 380C321.3 379.2 321.7 378.3 322 377C322.3 375.7 322.6 373.7 323 372C323.4 370.3 323.9 368.3 324.1 366.8C324.3 365.3 323.5 363.9 324.3 363C325.1 362.1 327.5 361.8 329.2 361.2C330.9 360.6 332.6 360.4 334.3 359.1C336 357.8 337.7 354.8 339.4 353.5C341.1 352.2 342.8 352.2 344.5 351.5C346.2 350.8 347.9 350.2 349.6 349.5C351.3 348.8 353 347.9 354.7 347.2C356.4 346.5 358.1 345.8 359.8 345.1C361.5 344.4 363.2 343.8 365 343.1C366.8 342.4 368.8 341.5 370.6 340.8C372.4 340.1 374 339.4 375.7 338.7C377.4 338 379.1 337.3 380.8 336.7C382.5 336.1 384.1 335.6 385.9 334.8C387.6 334 389.6 333 391.3 331.8C393.1 330.6 393.5 329 396.4 327.9C399.2 326.8 404.3 326.2 408.4 325.1C412.5 324 416.9 322 421.2 321.3C425.4 320.6 429.7 321.1 433.9 320.9C438.1 320.7 442.5 320.2 446.6 320C450.8 319.8 454.7 319.7 458.8 319.5C462.9 319.3 467.2 318.9 471.4 318.7C475.6 318.5 479.9 318.4 484.1 318.2C488.4 318 492.6 317.9 496.9 317.7C501.2 317.5 505 317.5 509.7 316.9C514.4 316.2 522.2 314.9 525 313.8C527.8 312.7 526.1 311.6 526.5 310.5C526.9 309.4 527.1 308.6 527.5 307.5C527.9 306.4 528.6 305.1 529 304C529.4 302.9 529.6 301.8 530 300.8C530.4 299.8 530.6 299.1 531.6 298C532.6 296.9 534 294.6 536 293.9C538 293.2 542.2 293.9 543.5 293.9" fill="none" stroke="#ED7D31" stroke-width="1.3" stroke-linejoin="round"/><circle cx="320.1" cy="382" r="1.65" fill="#24509A"/><circle cx="321" cy="379" r="1.65" fill="#24509A"/><circle cx="322" cy="376" r="1.65" fill="#24509A"/><circle cx="322.8" cy="373" r="1.65" fill="#24509A"/><circle cx="323.3" cy="364.2" r="1.65" fill="#24509A"/><circle cx="324.1" cy="360.4" r="1.65" fill="#24509A"/><circle cx="329.2" cy="358.4" r="1.65" fill="#24509A"/><circle cx="334.3" cy="356.6" r="1.65" fill="#24509A"/><circle cx="339.4" cy="351" r="1.65" fill="#24509A"/><circle cx="344.5" cy="348.9" r="1.65" fill="#24509A"/><circle cx="349.6" cy="346.9" r="1.65" fill="#24509A"/><circle cx="354.7" cy="344.6" r="1.65" fill="#24509A"/><circle cx="359.8" cy="342.5" r="1.65" fill="#24509A"/><circle cx="365" cy="340.5" r="1.65" fill="#24509A"/><circle cx="370.6" cy="338.2" r="1.65" fill="#24509A"/><circle cx="375.7" cy="336.1" r="1.65" fill="#24509A"/><circle cx="380.8" cy="334.1" r="1.65" fill="#24509A"/><circle cx="385.9" cy="332.3" r="1.65" fill="#24509A"/><circle cx="391.3" cy="329" r="1.65" fill="#24509A"/><circle cx="396.4" cy="325.4" r="1.65" fill="#24509A"/><circle cx="408.4" cy="322.1" r="1.65" fill="#24509A"/><circle cx="421.2" cy="318.7" r="1.65" fill="#24509A"/><circle cx="433.9" cy="318.2" r="1.65" fill="#24509A"/><circle cx="446.6" cy="317.4" r="1.65" fill="#24509A"/><circle cx="458.8" cy="316.9" r="1.65" fill="#24509A"/><circle cx="471.4" cy="316.1" r="1.65" fill="#24509A"/><circle cx="484.1" cy="315.6" r="1.65" fill="#24509A"/><circle cx="496.9" cy="315.1" r="1.65" fill="#24509A"/><circle cx="509.7" cy="313.8" r="1.65" fill="#24509A"/><circle cx="525" cy="311" r="1.65" fill="#24509A"/><circle cx="526.5" cy="308" r="1.65" fill="#24509A"/><circle cx="527.5" cy="305" r="1.65" fill="#24509A"/><circle cx="529" cy="301.6" r="1.65" fill="#24509A"/><circle cx="530" cy="299" r="1.65" fill="#24509A"/><circle cx="531.6" cy="296.5" r="1.65" fill="#24509A"/><circle cx="536" cy="293.9" r="1.65" fill="#24509A"/><circle cx="543.5" cy="293.9" r="1.65" fill="#24509A"/><path d="M318.2 383.4L320.1 380.1L322 383.4ZM319.1 381.4L321 378.1L322.9 381.4ZM320.1 378.4L322 375.1L323.9 378.4ZM321.1 373.4L323 370.1L324.9 373.4ZM322.2 368.2L324.1 364.9L326 368.2ZM322.4 364.4L324.3 361.1L326.2 364.4ZM327.3 362.6L329.2 359.3L331.1 362.6ZM332.4 360.5L334.3 357.2L336.2 360.5ZM337.5 354.9L339.4 351.6L341.3 354.9ZM342.6 352.9L344.5 349.6L346.4 352.9ZM347.7 350.9L349.6 347.6L351.5 350.9ZM352.8 348.6L354.7 345.3L356.6 348.6ZM357.9 346.5L359.8 343.2L361.7 346.5ZM363.1 344.5L365 341.2L366.9 344.5ZM368.7 342.2L370.6 338.9L372.5 342.2ZM373.8 340.1L375.7 336.8L377.6 340.1ZM378.9 338.1L380.8 334.8L382.7 338.1ZM384 336.2L385.9 332.9L387.8 336.2ZM389.4 333.2L391.3 329.9L393.2 333.2ZM394.5 329.3L396.4 326L398.3 329.3ZM406.5 326.5L408.4 323.2L410.3 326.5ZM419.3 322.7L421.2 319.4L423.1 322.7ZM432 322.3L433.9 319L435.8 322.3ZM444.7 321.4L446.6 318.1L448.5 321.4ZM456.9 320.9L458.8 317.6L460.7 320.9ZM469.5 320.1L471.4 316.8L473.3 320.1ZM482.2 319.6L484.1 316.3L486 319.6ZM495 319.1L496.9 315.8L498.8 319.1ZM507.8 318.3L509.7 315L511.6 318.3ZM523.1 315.2L525 311.9L526.9 315.2ZM524.6 311.9L526.5 308.6L528.4 311.9ZM525.6 308.9L527.5 305.6L529.4 308.9ZM527.1 305.4L529 302.1L530.9 305.4ZM528.1 302.2L530 298.9L531.9 302.2ZM529.7 299.4L531.6 296.1L533.5 299.4ZM534.1 295.3L536 292L537.9 295.3ZM541.6 295.3L543.5 292L545.4 295.3ZM317.6 383.9L319.5 380.6L321.4 383.9ZM318.3 382.3L320.2 379L322.1 382.3ZM319.1 380.7L321 377.4L322.9 380.7ZM319.9 379.2L321.8 375.9L323.7 379.2ZM320.6 377.6L322.5 374.3L324.4 377.6ZM321.3 376L323.2 372.7L325.1 376ZM322.1 374.4L324 371.1L325.9 374.4ZM322.3 371.4L324.2 368.1L326.1 371.4ZM322.3 367.9L324.2 364.6L326.1 367.9ZM322.3 364.4L324.2 361.1L326.1 364.4ZM538.1 295.4L540 292.1L541.9 295.4ZM539.6 295.4L541.5 292.1L543.4 295.4ZM541.1 295.4L543 292.1L544.9 295.4ZM542.6 295.4L544.5 292.1L546.4 295.4ZM521.9 315.5L523.8 312.1L525.7 315.5ZM523.7 313.8L525.6 310.5L527.5 313.8ZM525.5 309.2L527.4 305.9L529.3 309.2ZM527.3 304.8L529.2 301.5L531.1 304.8ZM529.1 300.5L531 297.2L532.9 300.5ZM530.9 298.3L532.8 295L534.7 298.3ZM534 295.4L535.9 292.1L537.8 295.4ZM538 295.3L539.9 292L541.8 295.3ZM539.8 295.3L541.7 292L543.6 295.3ZM541.6 295.3L543.5 292L545.4 295.3Z" fill="#F4A46E" stroke="#2A1C12" stroke-width="0.9" stroke-linejoin="round"/><line x1="484.2" y1="345" x2="497.7" y2="345" stroke="#5A86D0" stroke-width="1.5"/><circle cx="490.9" cy="345" r="1.65" fill="#24509A"/><line x1="484.2" y1="356.5" x2="497.7" y2="356.5" stroke="#F09050" stroke-width="1.5"/><path d="M489.1 357.9L490.9 354.6L492.8 357.9Z" fill="#F4B183" stroke="#3B2A1E" stroke-width="0.8"/><text x="499" y="347.2" class="lg" textLength="14.6" lengthAdjust="spacingAndGlyphs">JAFEE</text><text x="499" y="358.1" class="lg" textLength="9.4" lengthAdjust="spacingAndGlyphs">CK+</text></g>
</svg></body></html>
